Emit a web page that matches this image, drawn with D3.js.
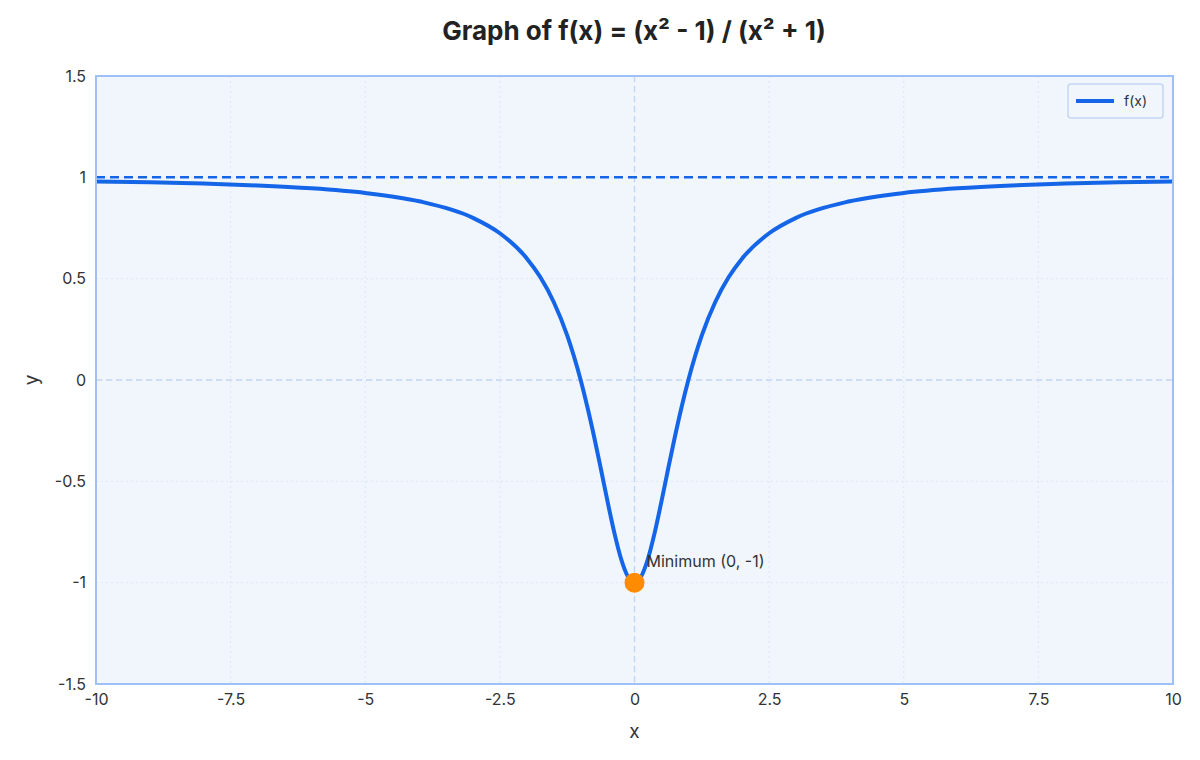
<!DOCTYPE html>
<html><head><meta charset="utf-8">
<script src="https://cdn.jsdelivr.net/npm/d3@7"></script>
<style>body{margin:0;background:#fff;font-family:Inter,"Noto Sans",sans-serif;}</style>
</head><body><svg id="c" width="1200" height="760"></svg>
<script>
const xSamples=[-10,-9,-8,-7,-6,-5,-4,-3,-2.5,-2,-1.75,-1.5,-1.25,-1,-0.875,-0.75,-0.625,-0.5,-0.375,-0.25,-0.125,0,0.125,0.25,0.375,0.5,0.625,0.75,0.875,1,1.25,1.5,1.75,2,2.5,3,4,5,6,7,8,9,10];
const ySamples=[0.980,0.976,0.969,0.960,0.946,0.923,0.882,0.800,0.724,0.600,0.508,0.385,0.220,0,-0.133,-0.280,-0.438,-0.600,-0.753,-0.882,-0.969,-1,-0.969,-0.882,-0.753,-0.600,-0.438,-0.280,-0.133,0,0.220,0.385,0.508,0.600,0.724,0.800,0.882,0.923,0.946,0.960,0.969,0.976,0.980];
const xTicks=[-10,-7.5,-5,-2.5,0,2.5,5,7.5,10];
const yTicks=[-1.5,-1,-0.5,0,0.5,1,1.5];
const asymptote=1;
const minPoint={x:0,y:-1,label:"Minimum (0, -1)"};

const svg=d3.select("#c");
const L=96,R=1173,T=76,B=684;
const x=d3.scaleLinear().domain([-10,10]).range([L,R]);
const y=d3.scaleLinear().domain([-1.5,1.5]).range([B,T]);
const blue="#1565e8";
svg.append("rect").attr("x",L).attr("y",T).attr("width",R-L).attr("height",B-T).attr("fill","#f1f6fd");
const g=svg.append("g");
xTicks.forEach(t=>g.append("line").attr("x1",x(t)).attr("x2",x(t)).attr("y1",T).attr("y2",B).attr("stroke","#dde6f3").attr("stroke-dasharray","2,3"));
yTicks.forEach(t=>g.append("line").attr("y1",y(t)).attr("y2",y(t)).attr("x1",L).attr("x2",R).attr("stroke","#dde6f3").attr("stroke-dasharray","2,3"));
g.append("line").attr("x1",x(0)).attr("x2",x(0)).attr("y1",T).attr("y2",B).attr("stroke","#c3d6f3").attr("stroke-width",1.5).attr("stroke-dasharray","6,4");
g.append("line").attr("y1",y(0)).attr("y2",y(0)).attr("x1",L).attr("x2",R).attr("stroke","#c3d6f3").attr("stroke-width",1.5).attr("stroke-dasharray","6,4");
g.append("line").attr("y1",y(asymptote)).attr("y2",y(asymptote)).attr("x1",L).attr("x2",R).attr("stroke",blue).attr("stroke-width",2.5).attr("stroke-dasharray","9,5");
const pts=xSamples.map((v,i)=>[v,ySamples[i]]);
svg.append("path").datum(pts).attr("fill","none").attr("stroke",blue).attr("stroke-width",4)
 .attr("d",d3.line().x(d=>x(d[0])).y(d=>y(d[1])).curve(d3.curveMonotoneX));
svg.append("circle").attr("cx",x(minPoint.x)).attr("cy",y(minPoint.y)).attr("r",10).attr("fill","#ff8c00");
svg.append("text").attr("x",x(minPoint.x)+12).attr("y",y(minPoint.y)-16).attr("font-size",16).attr("fill","#333").text(minPoint.label);
svg.append("rect").attr("x",L).attr("y",T).attr("width",R-L).attr("height",B-T).attr("fill","none").attr("stroke","#9fc0f5").attr("stroke-width",2);
const xa=svg.append("g").attr("transform",`translate(0,${B})`).call(d3.axisBottom(x).tickValues(xTicks).tickSize(0).tickPadding(10).tickFormat(d=>d));
const ya=svg.append("g").attr("transform",`translate(${L},0)`).call(d3.axisLeft(y).tickValues(yTicks).tickSize(0).tickPadding(10).tickFormat(d=>d));
[xa,ya].forEach(a=>{a.select(".domain").remove();a.selectAll("text").attr("font-size",16).attr("fill","#333").attr("font-family","Inter, sans-serif");});
svg.append("text").attr("x",(L+R)/2).attr("y",738).attr("text-anchor","middle").attr("font-size",19).attr("fill","#333").text("x");
svg.append("text").attr("transform",`translate(38,${(T+B)/2}) rotate(-90)`).attr("text-anchor","middle").attr("font-size",19).attr("fill","#333").text("y");
svg.append("text").attr("x",634).attr("y",40).attr("text-anchor","middle").attr("font-size",26).attr("font-weight","bold").attr("fill","#222").text("Graph of f(x) = (x² - 1) / (x² + 1)");
const lg=svg.append("g");
lg.append("rect").attr("x",1068).attr("y",84).attr("width",95).attr("height",34).attr("rx",3).attr("fill","#f1f6fd").attr("stroke","#c3d6f3").attr("stroke-width",1.5);
lg.append("line").attr("x1",1076).attr("x2",1114).attr("y1",101).attr("y2",101).attr("stroke",blue).attr("stroke-width",4);
lg.append("text").attr("x",1124).attr("y",106).attr("font-size",14).attr("fill","#333").text("f(x)");
</script></body></html>
